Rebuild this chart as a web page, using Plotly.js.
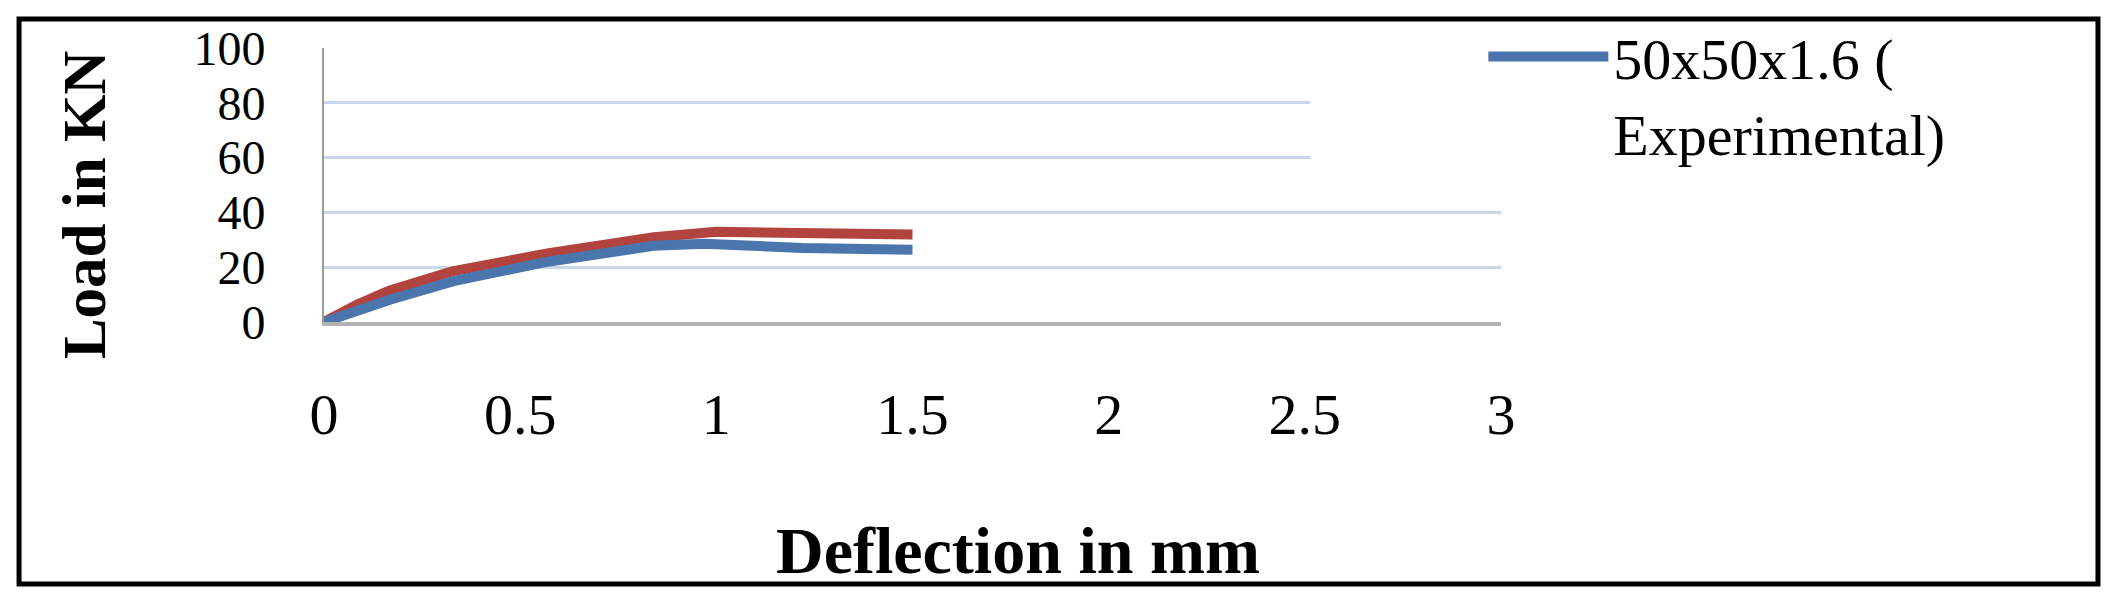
<!DOCTYPE html>
<html>
<head>
<meta charset="utf-8">
<script src="https://cdn.plot.ly/plotly-3.0.1.min.js"></script>
<style>
  html, body { margin: 0; padding: 0; background: #ffffff; }
  #chart { width: 2106px; height: 598px; }
</style>
</head>
<body>
<div id="chart"></div>
<script>
// ---- data ----
const blueName = "50x50x1.6 (<br>Experimental)";
const blueX = [0, 0.085, 0.17, 0.33, 0.57, 0.84, 0.97, 1.22, 1.5];
const blueY = [0, 4.3, 8.2, 14.9, 22.0, 27.8, 28.6, 27.0, 26.4];
const redX  = [0, 0.085, 0.166, 0.327, 0.569, 0.841, 1.0, 1.22, 1.5];
const redY  = [0, 6.4, 11.4, 18.5, 25.0, 30.9, 32.9, 32.8, 31.9];
const xTickVals = [0, 0.5, 1, 1.5, 2, 2.5, 3];
const xTickText = ["0", "0.5", "1", "1.5", "2", "2.5", "3"];
const yTickVals = [0, 20, 40, 60, 80, 100];
const yTickText = ["0", "20", "40", "60", "80", "100"];
const xTitle = "Deflection in mm";
const yTitle = "Load in KN";

const serif = "Liberation Serif, Times New Roman, serif";

const traces = [
  {
    x: redX, y: redY, type: "scatter", mode: "lines",
    line: { color: "#b3433f", width: 10 },
    showlegend: false, hoverinfo: "skip"
  },
  {
    x: blueX, y: blueY, type: "scatter", mode: "lines", name: blueName,
    line: { color: "#4a76ad", width: 10 },
    showlegend: true
  }
];

const layout = {
  width: 2106, height: 598,
  margin: { l: 324, r: 605, t: 41, b: 276, pad: 0 },
  paper_bgcolor: "#ffffff", plot_bgcolor: "#ffffff",
  font: { family: serif, color: "#000000" },
  xaxis: {
    range: [0, 3], tickvals: xTickVals, ticktext: xTickText,
    showgrid: false, zeroline: false,
    showline: true, linecolor: "#b2b2b2", linewidth: 4,
    ticks: "", ticklabelstandoff: 38,
    tickfont: { family: serif, size: 58, color: "#000" }
  },
  yaxis: {
    range: [0, 100], tickvals: yTickVals, ticktext: yTickText,
    showgrid: true, gridcolor: "#c9d5e9", gridwidth: 3,
    zeroline: false,
    showline: true, linecolor: "#9c9c9c", linewidth: 2,
    ticks: "", ticklabelstandoff: 47,
    tickfont: { family: serif, size: 48, color: "#000" }
  },
  showlegend: true,
  legend: {
    x: 0.985, y: 1.13, xanchor: "left", yanchor: "top",
    valign: "top",
    bgcolor: "rgba(255,255,255,0)", borderwidth: 0,
    itemwidth: 120,
    font: { family: serif, size: 58, color: "#000" }
  },
  annotations: [
    {
      text: "<b>" + xTitle + "</b>", xref: "paper", yref: "paper",
      x: 0.590, y: -0.835, xanchor: "center", yanchor: "middle",
      showarrow: false, font: { family: serif, size: 66, color: "#000" }
    },
    {
      text: "<b>" + yTitle + "</b>", xref: "paper", yref: "paper",
      x: -0.204, y: 0.43, xanchor: "center", yanchor: "middle",
      textangle: -90,
      showarrow: false, font: { family: serif, size: 61, color: "#000" }
    }
  ],
  shapes: [
    // white backing of the legend box, hiding the upper gridlines
    { type: "rect", xref: "paper", yref: "paper", layer: "above",
      x0: 0.838, x1: 1.02, y0: 0.5, y1: 1.05,
      fillcolor: "#ffffff", line: { width: 0 } },
    // outer frame
    { type: "rect", xref: "paper", yref: "paper", layer: "above",
      x0: -0.2591, x1: 1.5072, y0: -0.9563, y1: 1.1056,
      fillcolor: "rgba(0,0,0,0)", line: { color: "#000000", width: 5 } }
  ]
};

Plotly.newPlot("chart", traces, layout, { staticPlot: true, displayModeBar: false });
</script>
</body>
</html>
